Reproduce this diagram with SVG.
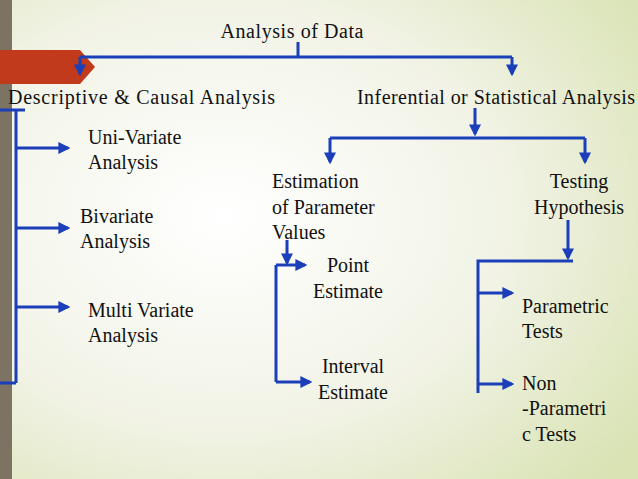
<svg xmlns="http://www.w3.org/2000/svg" width="638" height="479" viewBox="0 0 638 479">
<defs>
<radialGradient id="bg" cx="0.35" cy="0.45" r="0.8">
<stop offset="0" stop-color="#ffffff"/><stop offset="0.55" stop-color="#f2f3e6"/><stop offset="1" stop-color="#d9e3b4"/>
</radialGradient>
<marker id="a" viewBox="0 0 10 10" refX="8" refY="5" markerWidth="4" markerHeight="4" orient="auto"><path d="M0,0L10,5L0,10z" fill="#1a3fb8"/></marker>
</defs>
<style>
.c path{fill:none;stroke:#1a3fb8;stroke-width:3}
.c .m{marker-end:url(#a)}
text{font-family:"Liberation Serif","Times New Roman",serif;font-size:20px;fill:#111}
</style>
<rect width="638" height="479" fill="url(#bg)"/>
<rect x="0" y="0" width="12" height="479" fill="#7d7362"/>
<path d="M0,50H80L95,67L80,84H0z" fill="#c23a1c"/>
<g class="c">
<path d="M298,42V57"/>
<path d="M80,57H512"/>
<path class="m" d="M80,57V74"/>
<path class="m" d="M512,57V74"/>
<path d="M0,110H25M16,110V383M0,383H16"/>
<path class="m" d="M16,148H68"/>
<path class="m" d="M16,228H68"/>
<path class="m" d="M16,307H68"/>
<path class="m" d="M475,108V134"/>
<path d="M330,138H585"/>
<path class="m" d="M330,138V162"/>
<path class="m" d="M585,138V162"/>
<path class="m" d="M568,220V258"/>
<path d="M573,261H478V393"/>
<path class="m" d="M478,293H512"/>
<path class="m" d="M478,384H512"/>
<path class="m" d="M287,240V263"/>
<path d="M276,382V265"/>
<path class="m" d="M276,265H305"/>
<path class="m" d="M276,382H310"/>
</g>
<g id="root"><text x="292" y="38" text-anchor="middle" textLength="143">Analysis of Data</text></g>
<g id="desc"><text x="8" y="104" textLength="267">Descriptive &amp; Causal Analysis</text></g>
<g id="inf"><text x="357" y="104" textLength="278">Inferential or Statistical Analysis</text></g>
<g id="uni"><text x="88" y="144">Uni-Variate</text><text x="88" y="169">Analysis</text></g>
<g id="bi"><text x="80" y="223">Bivariate</text><text x="80" y="248">Analysis</text></g>
<g id="multi"><text x="88" y="317">Multi Variate</text><text x="88" y="342">Analysis</text></g>
<g id="est"><text x="272" y="188">Estimation</text><text x="272" y="214">of Parameter</text><text x="272" y="239">Values</text></g>
<g id="test"><text x="579" y="188" text-anchor="middle">Testing</text><text x="579" y="214" text-anchor="middle">Hypothesis</text></g>
<g id="point"><text x="348" y="272" text-anchor="middle">Point</text><text x="348" y="298" text-anchor="middle">Estimate</text></g>
<g id="interval"><text x="353" y="373" text-anchor="middle">Interval</text><text x="353" y="399" text-anchor="middle">Estimate</text></g>
<g id="param"><text x="522" y="313">Parametric</text><text x="522" y="338">Tests</text></g>
<g id="nonparam"><text x="522" y="390">Non</text><text x="522" y="415">-Parametri</text><text x="522" y="441">c Tests</text></g>
</svg>
